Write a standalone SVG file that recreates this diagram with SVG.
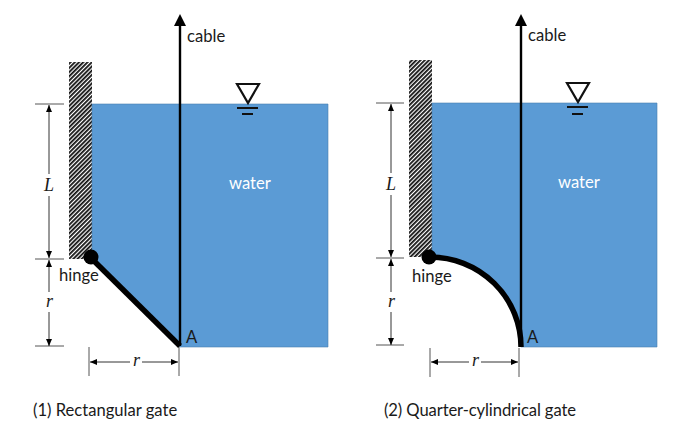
<svg xmlns="http://www.w3.org/2000/svg" width="700" height="444" viewBox="0 0 700 444">
<style>
text{font-family:Lato,"Liberation Sans",sans-serif;font-size:16.6px;fill:#1a1a1a}
.w{fill:#fff}
.it{font-family:"Liberation Serif",serif;font-style:italic;font-size:18px}
.water{fill:#5b9bd5;stroke:#4a7fb0;stroke-width:.6}
.dim{fill:none;stroke:#333;stroke-width:1;marker-start:url(#s);marker-end:url(#e)}
.tick{stroke:#555;stroke-width:1;fill:none}
.cable{stroke:#000;stroke-width:2.4;fill:none}
.gate{stroke:#000;stroke-width:5.5;fill:none}
.sym{stroke:#111;fill:none}
</style>
<defs>
<pattern id="h" width="3" height="3" patternUnits="userSpaceOnUse" patternTransform="rotate(-45)"><rect width="3" height="3" fill="#fff"/><rect width="3" height="1.8" fill="#111"/></pattern>
<marker id="e" markerWidth="8" markerHeight="6" refX="7" refY="3" orient="auto" markerUnits="userSpaceOnUse"><path d="M0 0L7 3L0 6Z" fill="#000"/></marker>
<marker id="s" markerWidth="8" markerHeight="6" refX="0" refY="3" orient="auto" markerUnits="userSpaceOnUse"><path d="M7 0L0 3L7 6Z" fill="#000"/></marker>
<marker id="c" markerWidth="13" markerHeight="12" refX="5" refY="6" orient="auto" markerUnits="userSpaceOnUse"><path d="M0 0L12 6L0 12Z" fill="#000"/></marker>
</defs>
<rect width="700" height="444" fill="#fff"/>
<g id="wall-1"><rect x="69" y="62" width="23" height="197" fill="url(#h)"/></g>
<g id="water-1"><path class="water" d="M92 104H328V347H180L92 258Z"/><text class="w" x="229" y="189">water</text></g>
<g id="wall-2"><rect x="409" y="60" width="23" height="197" fill="url(#h)"/></g>
<g id="water-2"><path class="water" d="M432 103H657V347H521A91 90 0 0 0 430 257H432Z"/><text class="w" x="558" y="188">water</text></g>
<g id="connectors">
<path class="tick" d="M35 104H64M35 259H64M35 346H64M89 347V376M179 347V376"/>
<path class="tick" d="M376 103H404M376 258H404M376 345H404M430 348V377M519 348V377"/>
<path class="dim" d="M49 105V258"/>
<path class="dim" d="M49 260V346"/>
<path class="dim" d="M90 362H178"/>
<path class="dim" d="M391 104V257"/>
<path class="dim" d="M391 259V345"/>
<path class="dim" d="M431 362H518"/>
<path class="cable" d="M180 346V21" marker-end="url(#c)"/>
<path class="cable" d="M521 346V21" marker-end="url(#c)"/>
<path class="gate" d="M91 258L180 346"/>
<path class="gate" d="M430 257A91 90 0 0 1 521 347"/>
</g>
<g id="hinge-1"><circle cx="91" cy="257" r="7.5" fill="#000"/><text x="59" y="281">hinge</text></g>
<g id="hinge-2"><circle cx="429" cy="257" r="7.5" fill="#000"/><text x="412" y="282">hinge</text></g>
<g id="level-1" class="sym"><path stroke-width="2.2" d="M237 84H259L248 103Z"/><path stroke-width="2" d="M237 108H258M242 114H253"/></g>
<g id="level-2" class="sym"><path stroke-width="2.2" d="M567 83H589L578 102Z"/><path stroke-width="2" d="M567 107H588M572 114H583"/></g>
<g id="labels">
<text x="187" y="42">cable</text>
<text x="528" y="41">cable</text>
<text x="186" y="343">A</text>
<text x="527" y="343">A</text>
<rect x="43" y="174" width="13" height="22" fill="#fff"/>
<rect x="385" y="173" width="13" height="22" fill="#fff"/>
<rect x="43" y="292" width="12" height="20" fill="#fff"/>
<rect x="385" y="292" width="12" height="20" fill="#fff"/>
<rect x="130" y="354" width="12" height="14" fill="#fff"/>
<rect x="469" y="354" width="12" height="14" fill="#fff"/>
<text class="it" x="44" y="191">L</text>
<text class="it" x="386" y="190">L</text>
<text class="it" x="46" y="307">r</text>
<text class="it" x="388" y="307">r</text>
<text class="it" x="133" y="366">r</text>
<text class="it" x="472" y="366">r</text>
<text x="33" y="416">(1) Rectangular gate</text>
<text x="384" y="416" textLength="192">(2) Quarter-cylindrical gate</text>
</g>
</svg>
